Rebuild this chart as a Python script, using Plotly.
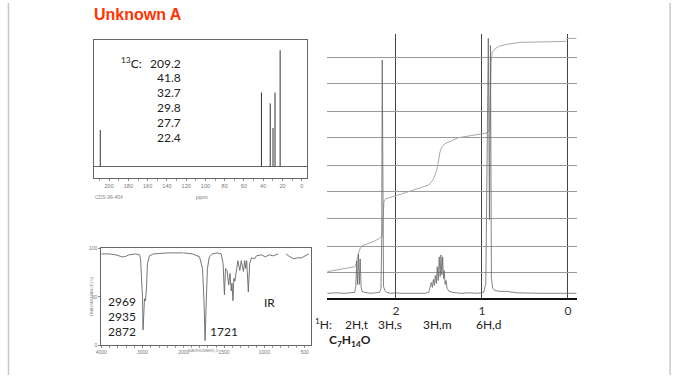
import plotly.graph_objects as go

W, H = 681, 378

# ---------------- data ----------------
# 13C NMR peaks (ppm) and their drawn heights
c13_ppm = [209.2, 41.8, 32.7, 29.8, 27.7, 22.4]
c13_height = [37, 75, 64, 39, 75, 118]
c13_labels = ["209.2", "41.8", "32.7", "29.8", "27.7", "22.4"]
c13_ticks = [200, 180, 160, 140, 120, 100, 80, 60, 40, 20, 0]

# IR spectrum (wavenumber cm-1, %T); None = gap in trace
ir_wn = [4000, 3810, 3643, 3500, 3429, 3333, 3167, 3071, 3048, 3024, 3000, 2988, 2976,
         2952, 2929, 2905, 2881, 2833, 2738, 2381, 2000,
         1890, 1805, 1768, 1750, 1736, 1720, 1707, 1683, 1646, 1585, 1537, 1512, 1496,
         1482, 1463, 1443, 1427, 1411, 1402, 1390, 1378, 1366, 1341, 1329, 1305, 1287,
         1260, 1244, 1232, 1220, 1199, 1183, 1159, 1122, 1098, 1037, 988, 939, 890, 829,
         None, 732, 683, 634, 585, 537, 488, 451]
ir_t = [94, 94, 93, 91, 91, 93, 94, 93, 89, 74, 48, 16, 30,
        48, 46, 59, 84, 92, 94, 95, 95,
        94, 91, 79, 48, 5, 48, 79, 91, 94, 95, 94, 84, 52,
        79, 77, 62, 74, 56, 64, 46, 69, 66, 81, 87, 77, 87,
        76, 87, 79, 87, 55, 84, 90, 89, 92, 93, 91, 93, 92, 94,
        None, 94, 91, 89, 90, 90, 92, 94]
ir_xticks_hi = [4000, 3000, 2000]
ir_xticks_lo = [1500, 1000, 500]
ir_labels = ["2969", "2935", "2872"]
ir_co_label = "1721"

# 1H NMR spectrum (ppm, intensity)
h_ppm = [2.80, 2.70, 2.60, 2.52, 2.48, 2.468, 2.457, 2.448, 2.437, 2.427, 2.417, 2.407,
         2.395, 2.37, 2.30, 2.24, 2.19, 2.175, 2.166, 2.160, 2.154, 2.145, 2.13, 2.11,
         2.06, 2.00, 1.95, 1.85, 1.75, 1.66, 1.62,
         1.589, 1.577, 1.566, 1.554, 1.543, 1.531, 1.520, 1.509, 1.497, 1.486, 1.477,
         1.467, 1.457, 1.447, 1.438, 1.429, 1.417, 1.406, 1.383, 1.337,
         1.25, 1.15, 1.05, 0.98, 0.955, 0.926, 0.913, 0.901, 0.89, 0.875, 0.85, 0.80,
         0.71, 0.60, 0.45, 0.30, 0.15, 0.0, -0.10]
h_int = [5, 5.5, 5, 5.5, 6, 12, 38, 14, 45, 14, 40, 12,
         7, 6, 5, 5.5, 6, 10, 60, 242, 60, 12, 8, 6,
         5, 5.5, 5, 5, 5.5, 5, 6,
         16, 11, 19, 13, 23, 15, 32, 18, 42, 22, 44,
         24, 42, 20, 28, 14, 18, 10, 7, 6,
         5, 5.5, 5, 6, 15, 264, 80, 257, 20, 10, 8, 7,
         7, 5.5, 5, 5, 5, 5, 5]

# 1H integration curve (ppm, level)
int_ppm = [2.80, 2.65, 2.54, 2.48, 2.46, 2.44, 2.42, 2.40, 2.37, 2.31, 2.25, 2.19, 2.16,
           2.14, 2.12, 1.97, 1.74, 1.62, 1.57, 1.53, 1.51, 1.49, 1.47, 1.43, 1.28, 1.05,
           0.94, 0.91, 0.90, 0.893, 0.88, 0.84, 0.80, 0.71, 0.56, 0.40, 0.02,
           None, 0.02, -0.10]
int_lvl = [27, 29, 30.5, 32, 36, 45, 50, 53, 54, 56, 58, 61, 63,
           98, 101, 105, 112, 115, 120, 129, 137, 148, 153, 157, 163, 166,
           168, 172, 200, 240, 250, 254, 256, 258, 260, 260.5, 261,
           None, 264, 264]
h_grid = [26, 53, 81, 108, 135, 163, 190, 218, 245]
h_ticks = [2, 1, 0]
h_assign = ["2H,t", "3H,s", "3H,m", "6H,d"]

# ---------------- helpers ----------------
def fx(px):
    return px / W

def fy(py):
    return 1 - py / H

FONT = "Lato"

fig = go.Figure()

# 13C stick spectrum
cx, cy = [], []
for p, h in zip(c13_ppm, c13_height):
    cx += [p, p, None]
    cy += [0, h, None]
fig.add_trace(go.Scatter(x=cx, y=cy, mode="lines", line=dict(color="#333", width=1),
                         xaxis="x", yaxis="y", hoverinfo="skip"))

# IR spectrum, split at 2000 cm-1 (scale change)
hi_x, hi_y, lo_x, lo_y = [], [], [], []
for w, t in zip(ir_wn, ir_t):
    if w is None:
        lo_x.append(None); lo_y.append(None)
        continue
    if w >= 2000:
        hi_x.append(w); hi_y.append(t)
    if w <= 2000:
        lo_x.append(w); lo_y.append(t)
fig.add_trace(go.Scatter(x=hi_x, y=hi_y, mode="lines", line=dict(color="#666", width=0.9),
                         xaxis="x3", yaxis="y3", hoverinfo="skip"))
fig.add_trace(go.Scatter(x=lo_x, y=lo_y, mode="lines", line=dict(color="#666", width=0.9),
                         xaxis="x4", yaxis="y4", hoverinfo="skip", connectgaps=False))

# 1H spectrum + integral
fig.add_trace(go.Scatter(x=int_ppm, y=int_lvl, mode="lines", line=dict(color="#a8a8a8", width=1),
                         xaxis="x2", yaxis="y2", hoverinfo="skip", connectgaps=False))
fig.add_trace(go.Scatter(x=h_ppm, y=h_int, mode="lines", line=dict(color="#666", width=0.8),
                         xaxis="x2", yaxis="y2", hoverinfo="skip"))

tiny = dict(family="Liberation Sans", size=5, color="#777")

fig.update_layout(
    width=W, height=H, margin=dict(l=0, r=0, t=0, b=0),
    paper_bgcolor="white", plot_bgcolor="rgba(0,0,0,0)", showlegend=False,
    # 13C
    xaxis=dict(domain=[fx(90), fx(306)], range=[215.3, -5.1], anchor="y",
               showline=True, mirror=True, linecolor="#666", linewidth=1,
               ticks="outside", ticklen=2, tickcolor="#888", tickvals=c13_ticks,
               tickfont=dict(family="Liberation Sans", size=5.5, color="#777"),
               minor=dict(dtick=10, ticks="outside", ticklen=2, tickcolor="#999"),
               showgrid=False, zeroline=False),
    yaxis=dict(domain=[fy(178), fy(38)], range=[-12, 128], anchor="x",
               showline=True, mirror=True, linecolor="#666", linewidth=1,
               showticklabels=False, showgrid=False,
               zeroline=True, zerolinecolor="#666", zerolinewidth=1),
    # 1H
    xaxis2=dict(domain=[fx(327), fx(581)], range=[2.8, -0.103], anchor="y2",
                showline=True, linecolor="#111", linewidth=2,
                tickvals=h_ticks, ticktext=[str(t) for t in h_ticks], ticks="",
                tickfont=dict(family=FONT, size=12, color="#333"),
                showgrid=True, gridcolor="#444", gridwidth=1, zeroline=False),
    yaxis2=dict(domain=[fy(300), fy(32)], range=[0, 268], anchor="x2",
                tickvals=h_grid, showticklabels=False, ticks="",
                showgrid=True, gridcolor="#9a9a9a", gridwidth=1,
                showline=False, zeroline=False),
    # IR high-wavenumber half
    xaxis3=dict(domain=[fx(97), fx(181)], range=[4000, 2000], anchor="y3",
                showline=True, mirror=True, linecolor="#666", linewidth=1,
                ticks="outside", ticklen=2, tickcolor="#888", tickvals=ir_xticks_hi,
                tickfont=tiny, minor=dict(dtick=200, ticks="outside", ticklen=1.5, tickcolor="#999"),
                showgrid=False, zeroline=False),
    yaxis3=dict(domain=[fy(348), fy(249)], range=[0, 100], anchor="x3",
                showline=True, linecolor="#666", linewidth=1,
                ticks="outside", ticklen=2, tickcolor="#888", tickvals=[0, 50, 100],
                tickfont=tiny, showgrid=False, zeroline=False),
    # IR low-wavenumber half
    xaxis4=dict(domain=[fx(181), fx(310)], range=[2000, 427], anchor="y4",
                showline=True, mirror=True, linecolor="#666", linewidth=1,
                ticks="outside", ticklen=2, tickcolor="#888", tickvals=ir_xticks_lo,
                tickfont=tiny, minor=dict(dtick=100, ticks="outside", ticklen=1.5, tickcolor="#999"),
                showgrid=False, zeroline=False),
    yaxis4=dict(domain=[fy(348), fy(249)], range=[0, 100], anchor="x4", side="right",
                showline=True, linecolor="#666", linewidth=1,
                showticklabels=False, ticks="", showgrid=False, zeroline=False),
)

ann = []

def text(x, y, s, size=12, color="#222", xanchor="center", bold=False, family=FONT, angle=0):
    if bold:
        s = "<b>" + s + "</b>"
    ann.append(dict(x=fx(x), y=fy(y), xref="paper", yref="paper", text=s, showarrow=False,
                    xanchor=xanchor, yanchor="middle", textangle=angle,
                    font=dict(family=family, size=size, color=color)))

text(88, 12, "Unknown A", size=16, color="#FF3300", xanchor="left", bold=True,
     family="Liberation Sans")

# 13C panel text
text(115, 61, "<sup>13</sup>C:", size=12, xanchor="left")
for i, lab in enumerate(c13_labels):
    text(180, 61 + 15.2 * i, lab, size=12, xanchor="right")
text(200, 197, "ppm", size=6, color="#777", family="Liberation Sans")
text(89, 197, "CDS-96-454", size=5, color="#888", xanchor="left", family="Liberation Sans")

# IR text
for i, lab in enumerate(ir_labels):
    text(118, 303 + 15.5 * i, lab, size=12)
text(222, 334, ir_co_label, size=12)
text(268, 304, "IR", size=12)
text(201, 354, "WAVENUMBER(-1)", size=3.5, color="#888", family="Liberation Sans")
text(87, 298, "TRANSMITTANCE(%)", size=4, color="#888", family="Liberation Sans", angle=-90)

# 1H text
text(312, 326, "<sup>1</sup>H:", size=12, xanchor="left")
for xc, lab in zip([357, 391, 439, 492], h_assign):
    text(xc, 327, lab, size=12)
text(350, 343, "C<sub>7</sub>H<sub>14</sub>O", size=12, bold=True)

fig.update_layout(annotations=ann)

# slide edges
fig.add_shape(type="line", xref="paper", yref="paper", x0=fx(2.5), x1=fx(2.5), y0=0, y1=1,
              line=dict(color="#c8c8c8", width=1.5))
fig.add_shape(type="line", xref="paper", yref="paper", x0=fx(676), x1=fx(676), y0=0, y1=1,
              line=dict(color="#c8c8c8", width=1.5))

fig.write_html("out.html", config={"displayModeBar": False, "staticPlot": True},
               post_script="document.body.style.margin='0px';document.body.style.overflow='hidden';")
